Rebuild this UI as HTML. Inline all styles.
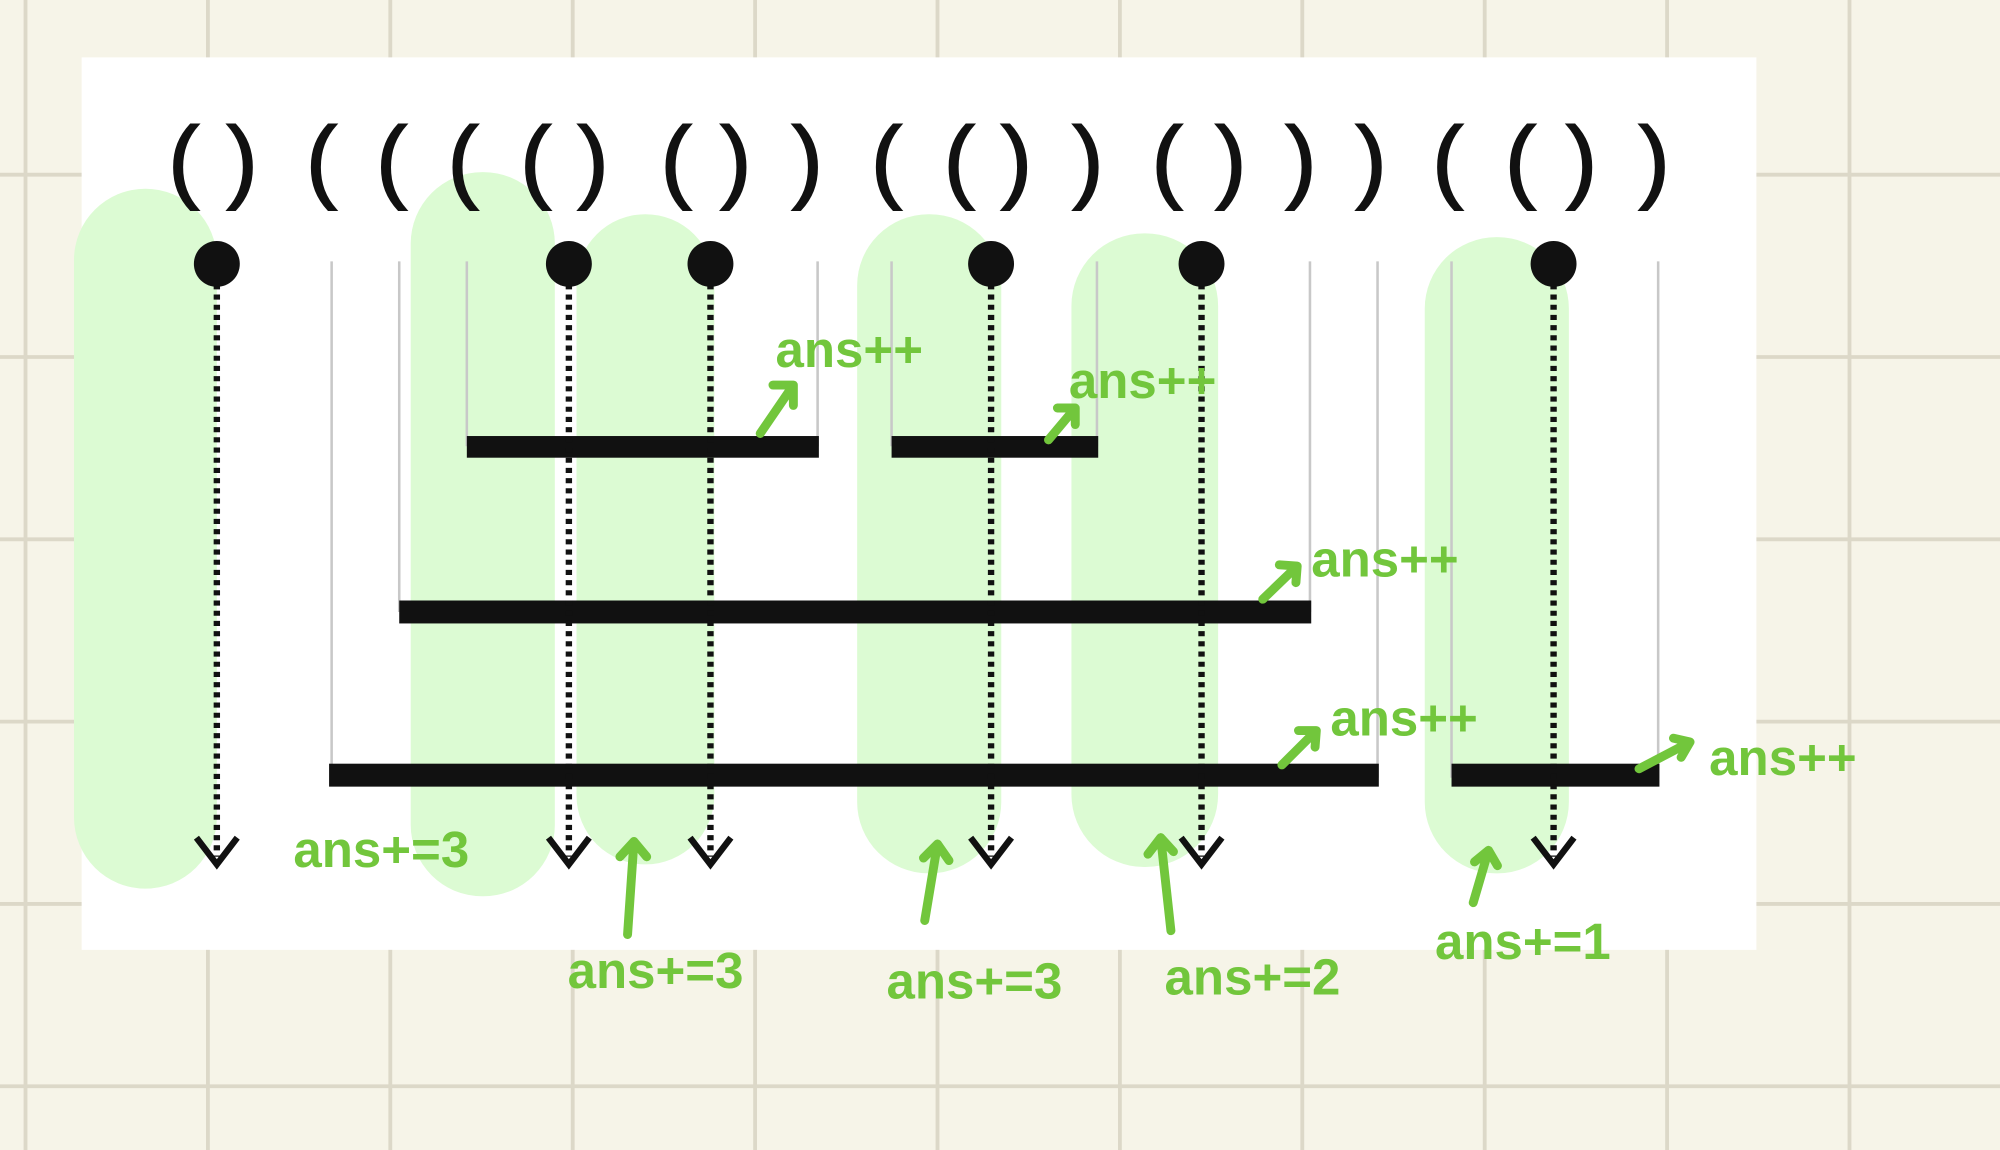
<!DOCTYPE html>
<html><head><meta charset="utf-8"><style>
html,body{margin:0;padding:0;width:2000px;height:1150px;overflow:hidden;background:#f6f4e8}
svg{display:block}
.p{font-family:"Liberation Sans",sans-serif;font-size:72px;font-weight:normal;fill:#111;text-anchor:middle;stroke:#111;stroke-width:1.5}
.g{font-family:"Liberation Sans",sans-serif;font-size:40px;font-weight:bold;fill:#72c63c}
.a{stroke:#72c63c;stroke-width:7;fill:none;stroke-linecap:round;stroke-linejoin:round}
</style></head><body>
<svg width="2000" height="1150" viewBox="0 0 1568 902" preserveAspectRatio="none">
<rect width="1568" height="902" fill="#f6f4e8"/>
<g stroke="#dcd8c8" stroke-width="3">
<line x1="20" y1="0" x2="20" y2="902"/><line x1="163" y1="0" x2="163" y2="902"/><line x1="306" y1="0" x2="306" y2="902"/><line x1="449" y1="0" x2="449" y2="902"/><line x1="592" y1="0" x2="592" y2="902"/><line x1="735" y1="0" x2="735" y2="902"/><line x1="878" y1="0" x2="878" y2="902"/><line x1="1021" y1="0" x2="1021" y2="902"/><line x1="1164" y1="0" x2="1164" y2="902"/><line x1="1307" y1="0" x2="1307" y2="902"/><line x1="1450" y1="0" x2="1450" y2="902"/>
<line x1="0" y1="137" x2="1568" y2="137"/><line x1="0" y1="280" x2="1568" y2="280"/><line x1="0" y1="423" x2="1568" y2="423"/><line x1="0" y1="566" x2="1568" y2="566"/><line x1="0" y1="709" x2="1568" y2="709"/><line x1="0" y1="852" x2="1568" y2="852"/>
</g>
<rect x="64" y="45" width="1313" height="700" fill="#fff"/>
<g fill="#dcfbd3">
<rect x="58" y="148" width="112" height="549" rx="56"/>
<rect x="322" y="135" width="113" height="568" rx="56"/>
<rect x="452" y="168" width="108" height="510" rx="54"/>
<rect x="672" y="168" width="113" height="517" rx="56"/>
<rect x="840" y="183" width="115" height="497" rx="57"/>
<rect x="1117" y="186" width="113" height="499" rx="56"/>
</g>
<g class="p">
<text x="144" y="150">(</text><text x="190" y="150">)</text><text x="252" y="150">(</text><text x="307" y="150">(</text><text x="363" y="150">(</text><text x="420" y="150">(</text><text x="465" y="150">)</text><text x="530" y="150">(</text><text x="577" y="150">)</text><text x="633" y="150">)</text><text x="695" y="150">(</text><text x="752" y="150">(</text><text x="797" y="150">)</text><text x="853" y="150">)</text><text x="915" y="150">(</text><text x="965" y="150">)</text><text x="1020" y="150">)</text><text x="1075" y="150">)</text><text x="1135" y="150">(</text><text x="1192" y="150">(</text><text x="1240" y="150">)</text><text x="1297" y="150">)</text>
</g>
<g stroke="#c8c8c8" stroke-width="2">
<line x1="260" y1="205" x2="260" y2="610"/><line x1="313" y1="205" x2="313" y2="480"/><line x1="366" y1="205" x2="366" y2="350"/><line x1="641" y1="205" x2="641" y2="350"/><line x1="699" y1="205" x2="699" y2="350"/><line x1="860" y1="205" x2="860" y2="350"/><line x1="1027" y1="205" x2="1027" y2="480"/><line x1="1080" y1="205" x2="1080" y2="610"/><line x1="1138" y1="205" x2="1138" y2="610"/><line x1="1300" y1="205" x2="1300" y2="610"/>
</g>
<g fill="#111">
<rect x="366" y="342" width="276" height="17"/><rect x="699" y="342" width="162" height="17"/>
<rect x="313" y="471" width="715" height="18"/>
<rect x="258" y="599" width="823" height="18"/><rect x="1138" y="599" width="163" height="18"/>
</g>
<g stroke="#111">
<g stroke-width="5" stroke-dasharray="4,4">
<line x1="170" y1="215" x2="170" y2="672"/><line x1="446" y1="215" x2="446" y2="672"/><line x1="557" y1="215" x2="557" y2="672"/><line x1="777" y1="215" x2="777" y2="672"/><line x1="942" y1="215" x2="942" y2="672"/><line x1="1218" y1="215" x2="1218" y2="672"/>
</g>
<g stroke-width="5" fill="none">
<polyline points="154,657 170,678 186,657"/><polyline points="430,657 446,678 462,657"/><polyline points="541,657 557,678 573,657"/><polyline points="761,657 777,678 793,657"/><polyline points="926,657 942,678 958,657"/><polyline points="1202,657 1218,678 1234,657"/>
</g>
</g>
<g fill="#111">
<circle cx="170" cy="207" r="18"/><circle cx="446" cy="207" r="18"/><circle cx="557" cy="207" r="18"/><circle cx="777" cy="207" r="18"/><circle cx="942" cy="207" r="18"/><circle cx="1218" cy="207" r="18"/>
</g>
<g class="g">
<text x="608" y="288">ans++</text>
<text x="838" y="312">ans++</text>
<text x="1028" y="452">ans++</text>
<text x="1043" y="577">ans++</text>
<text x="1340" y="608">ans++</text>
<text x="230" y="680">ans+=3</text>
<text x="445" y="775">ans+=3</text>
<text x="695" y="783">ans+=3</text>
<text x="913" y="780">ans+=2</text>
<text x="1125" y="752">ans+=1</text>
</g>
<g class="a">
<path d="M596 340 L622 302 M606 302 L622 302 L622 318"/>
<path d="M822 345 L843 320 M829 320 L843 320 L843 333"/>
<path d="M990 470 L1017 444 M1003 443 L1017 444 L1016 457"/>
<path d="M1005 600 L1032 573 M1018 573 L1032 573 L1031 586"/>
<path d="M1285 603 L1325 582 M1312 579 L1325 582 L1318 594"/>
<path d="M492 733 L497 660 M486 672 L497 660 L507 672"/>
<path d="M725 722 L735 662 M724 673 L735 662 L744 675"/>
<path d="M918 730 L910 657 M900 670 L910 657 L920 668"/>
<path d="M1155 708 L1167 667 M1156 676 L1167 667 L1174 679"/>
</g>
</svg>
</body></html>
